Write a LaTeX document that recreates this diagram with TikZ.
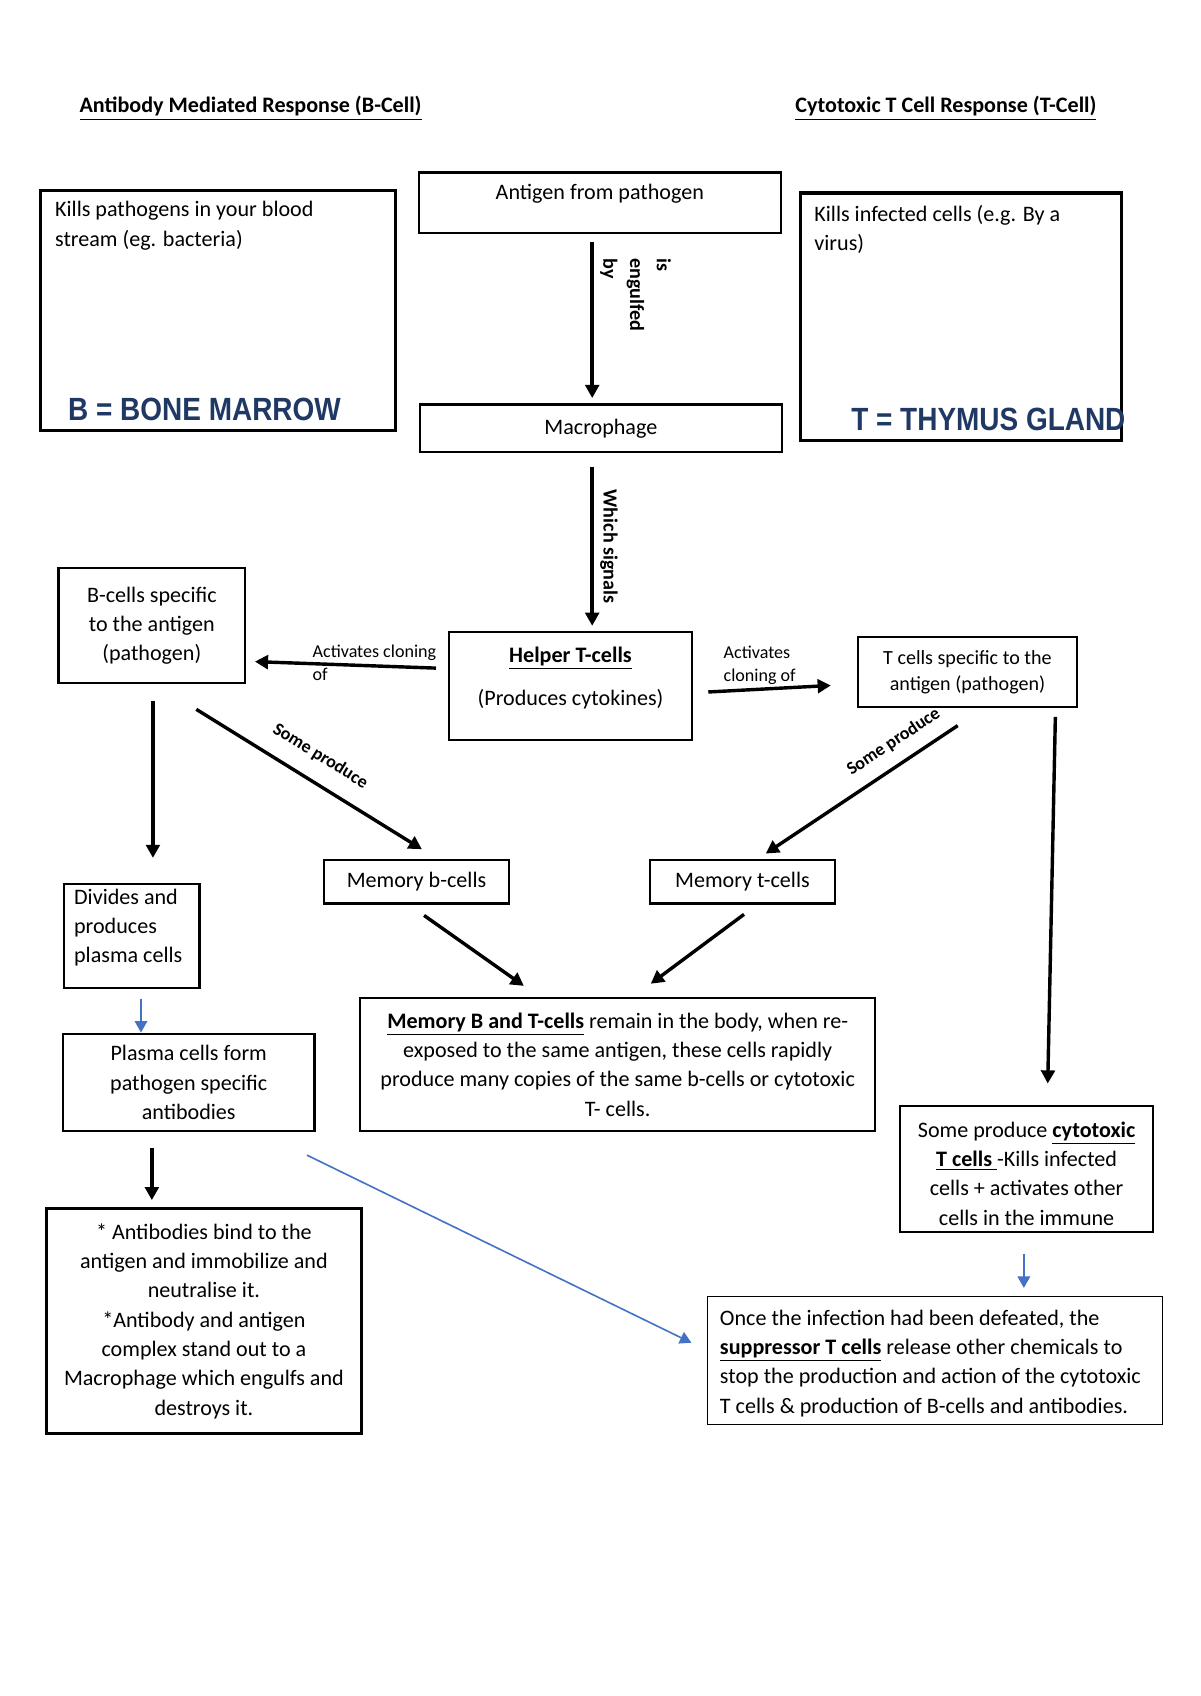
\documentclass[tikz,border=0pt]{standalone}
\usepackage{fontspec}
\setmainfont{Carlito}
\newfontfamily\capfont[FakeStretch=0.87]{Liberation Sans}
\usetikzlibrary{arrows.meta,calc}
\newcommand\pxunit{0.1898mm}
\definecolor{capblue}{RGB}{31,56,100}
\definecolor{arrowblue}{RGB}{68,114,196}
\tikzset{
  txt/.style={font=\fontsize{11}{14.6}\selectfont, inner sep=0pt, align=left},
  head/.style={font=\fontsize{11}{14.6}\selectfont\bfseries, inner sep=0pt},
  box/.style={draw, line width=1.1pt, inner sep=0pt, align=center, font=\fontsize{11}{14.6}\selectfont},
  heavybox/.style={box, line width=1.6pt},
  thinbox/.style={box, line width=0.6pt},
  dims/.style 2 args={minimum width=#1*\pxunit, minimum height=#2*\pxunit},
  organ/.style={font=\capfont\bfseries\fontsize{16}{19}\selectfont, text=capblue, inner sep=0pt},
  arr/.style={-{Triangle[length=2.3mm,width=2.4mm]}, line width=1.7pt},
  bluearr/.style={-{Triangle[length=2mm,width=2.2mm]}, line width=0.8pt, draw=arrowblue, color=arrowblue},
  lbl/.style={font=\fontsize{9}{11.4}\selectfont, inner sep=0pt, align=left},
  vlbl/.style={font=\bfseries\fontsize{10}{13.3}\selectfont, rotate=-90, inner sep=1.1mm, align=left},
  tiltlbl/.style={font=\bfseries\fontsize{9}{11}\selectfont, inner sep=0pt}
}
\begin{document}
\begin{tikzpicture}[x=\pxunit, y=-\pxunit]
  \useasboundingbox (0,0) rectangle (1106.4,1563.7);
  \node[head, anchor=base west] (bhead) at (73,104) {\underline{Antibody Mediated Response (B-Cell)}};
  \node[head, anchor=base west] (thead) at (733,104) {\underline{Cytotoxic T Cell Response (T-Cell)}};

  \node[heavybox, dims={328}{221}] (bbox) at (201,286.5) {};
  \node[txt, anchor=north west] at ($(bbox.north west)+(15,11)$) {Kills pathogens in your blood\\stream (eg. bacteria)};
  \node[organ, anchor=west] at ($(bbox.south west)+(27,-21)$) {B = BONE MARROW};
  \node[box, dims={334}{56}] (antigen) at (553,187) {};
  \node[txt] at ($(antigen.north)+(0,21)$) {Antigen from pathogen};
  \node[heavybox, dims={296}{228}] (tbox) at (886,292) {};
  \node[txt, anchor=north west] at ($(tbox.north west)+(14,12)$) {Kills infected cells (e.g. By a\\virus)};
  \node[organ, anchor=west] at ($(tbox.south west)+(48,-21)$) {T = THYMUS GLAND};
  \node[box, dims={334}{44}] (macro) at (554,395) {Macrophage};

  \node[box, dims={172}{106}] (bspec) at (140,577) {B-cells specific\\to the antigen\\(pathogen)};
  \node[box, dims={224}{99}] (helper) at (526,632.5) {};
  \node[txt, align=center] at ($(helper.center)+(0,-7.5)$) {\underline{\textbf{Helper T-cells}}\\[7pt](Produces cytokines)};
  \node[box, dims={202}{65}, font=\fontsize{10}{13}\selectfont] (tspec) at (892,619.5) {T cells specific to the\\antigen (pathogen)};
  \node[box, dims={170}{40}] (memb) at (384,813) {Memory b-cells};
  \node[box, dims={171}{40}] (memt) at (684.5,813) {Memory t-cells};
  \node[box, dims={125}{96}] (divides) at (121.5,863) {};
  \node[txt, anchor=north west] at ($(divides.north west)+(10,5)$) {Divides and\\produces\\plasma cells};
  \node[box, dims={232}{90}] (plasma) at (174,998) {Plasma cells form\\pathogen specific\\antibodies};
  \node[box, dims={475}{123}] (memory) at (569.5,981.5) {\underline{\textbf{Memory B and T-cells}} remain in the body, when re-\\exposed to the same antigen, these cells rapidly\\produce many copies of the same b-cells or cytotoxic\\T- cells.};
  \node[box, dims={233}{116}] (cyto) at (946.5,1078) {};
  \node[txt, align=center] at ($(cyto.center)+(0,4)$) {Some produce \underline{\textbf{cytotoxic}}\\\underline{\textbf{T cells }}-Kills infected\\cells + activates other\\cells in the immune};
  \node[heavybox, dims={290}{208}] (antib) at (188,1218) {* Antibodies bind to the\\antigen and immobilize and\\neutralise it.\\{}*Antibody and antigen\\complex stand out to a\\Macrophage which engulfs and\\destroys it.};
  \node[thinbox, dims={420}{118}] (supp) at (862,1254) {};
  \node[txt, anchor=north west] at ($(supp.north west)+(12,12.7)$) {Once the infection had been defeated, the\\\underline{\textbf{suppressor T cells}} release other chemicals to\\stop the production and action of the cytotoxic\\T cells \& production of B-cells and antibodies.};

  \draw[arr] ($(antigen.south)+(-7,7)$) -- ($(macro.north)+(-8,-5)$) node[vlbl, pos=0.055, anchor=south west] {is\\engulfed\\by};
  \draw[arr] ($(macro.south)+(-8,13)$) -- ($(helper.north)+(20,-5)$) node[vlbl, midway, anchor=south] {Which signals};
  \draw[arr] ($(helper.west)+(-11,-16.5)$) -- ($(bspec.east)+(8,33)$) node[lbl, pos=0.34, yshift=0.5mm] {Activates cloning\\of};
  \draw[arr] ($(helper.east)+(14,5.5)$) -- ($(tspec.west)+(-24,12.5)$) node[lbl, pos=0.42, anchor=south, inner sep=0.6mm] {Activates\\cloning of};
  \draw[arr] ($(bspec.south)+(1,15)$) -- ($(divides.north)+(19.5,-23)$);
  \draw[arr] ($(bspec.south east)+(-46,23)$) -- ($(memb.north)+(5,-9)$) node[tiltlbl, pos=0.49, sloped, above=2.8mm] {Some produce};
  \draw[arr] ($(tspec.south)+(-9,16)$) -- ($(memt.north)+(21.5,-5)$) node[tiltlbl, pos=0.27, sloped, above=2.2mm] {Some produce};
  \draw[arr] ($(tspec.south east)+(-21,8)$) -- ($(cyto.north)+(19.5,-20)$);
  \draw[arr] ($(memb.south)+(7,10)$) -- ($(memory.north)+(-86.5,-10)$);
  \draw[arr] ($(memt.south)+(1.5,9)$) -- ($(memory.north)+(30.5,-12)$);
  \draw[bluearr] ($(divides.south)+(8.5,9)$) -- ($(plasma.north)+(-44,0)$);
  \draw[arr] ($(plasma.south)+(-34,14)$) -- ($(antib.north)+(-48,-6)$);
  \draw[bluearr] ($(plasma.south east)+(-8,21)$) -- ($(supp.west)+(-14,-16)$);
  \draw[bluearr] ($(cyto.south)+(-2.5,19)$) -- ($(supp.north)+(82,-7)$);
\end{tikzpicture}
\end{document}
